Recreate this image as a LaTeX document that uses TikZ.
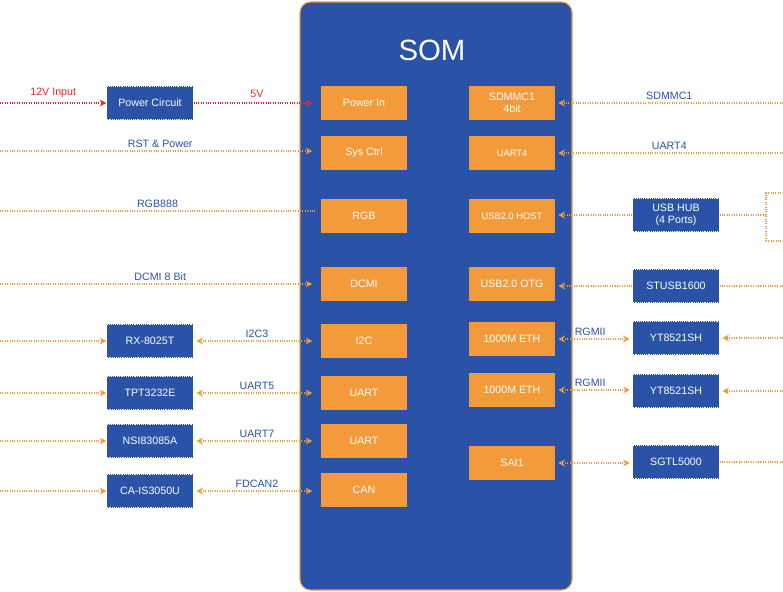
\documentclass[tikz,border=0pt]{standalone}
\usepackage{fontspec}
\setmainfont{Liberation Sans}
\usetikzlibrary{arrows.meta}
\definecolor{somblue}{HTML}{2A52A6}
\definecolor{somorange}{HTML}{F39A3A}
\definecolor{pwrred}{HTML}{E8252A}
\begin{document}
\begin{tikzpicture}[x=0.75pt,y=-0.75pt,font=\fontsize{8}{9}\selectfont] % SOM block diagram
\tikzstyle{port} = [fill=somorange, text=white, minimum width=65pt, minimum height=25pt, inner sep=1pt, align=center] % interface on the SOM
\tikzstyle{chip} = [fill=somblue, draw=white, densely dotted, text=white, minimum width=65pt, minimum height=25pt, inner sep=1pt, align=center] % external chip
\tikzstyle{bus} = [draw=somorange, densely dotted, thick] % signal line
\tikzstyle{pwr} = [draw=pwrred, densely dotted, thick] % power line
\tikzstyle{tip} = [-{Stealth[length=5pt,width=5pt]}]
\tikzstyle{tips} = [{Stealth[length=5pt,width=5pt]}-{Stealth[length=5pt,width=5pt]}]
\tikzstyle{sig} = [text=somblue, above, inner sep=2pt] % bus name
\useasboundingbox (0,0) rectangle (783,592);
% module
\node[fill=somblue, draw=somorange, thick, rounded corners=8pt, minimum width=204pt, minimum height=441pt] (som) at (436,296) {};
\node[text=white, font=\fontsize{22}{24}\selectfont] (title) at (432,50) {SOM};
% left column
\node[port] (pin) at (364,103) {Power In};
\node[port] (sys) at (364,153) {Sys Ctrl};
\node[port] (rgb) at (364,216) {RGB};
\node[port] (dcmi) at (364,284) {DCMI};
\node[port] (i2c) at (364,341) {I2C};
\node[port] (uarta) at (364,393) {UART};
\node[port] (uartb) at (364,441) {UART};
\node[port] (can) at (364,490) {CAN};
% right column
\node[port] (sd) at (512,103) {SDMMC1\\4bit};
\node[port, font=\fontsize{7}{8}\selectfont] (uart4) at (512,153) {UART4};
\node[port, font=\fontsize{7}{8}\selectfont] (host) at (512,216) {USB2.0 HOST};
\node[port] (otg) at (512,284) {USB2.0 OTG};
\node[port] (etha) at (512,339) {1000M ETH};
\node[port] (ethb) at (512,390) {1000M ETH};
\node[port] (sai) at (512,463) {SAI1};
% external chips
\node[chip] (pc) at (150,103) {Power Circuit};
\node[chip] (rtc) at (150,341) {RX-8025T};
\node[chip] (rs) at (150,393) {TPT3232E};
\node[chip] (iso) at (150,441) {NSI83085A};
\node[chip] (cant) at (150,491) {CA-IS3050U};
\node[chip] (hub) at (676,215) {USB HUB\\(4 Ports)};
\node[chip] (pd) at (676,286) {STUSB1600};
\node[chip] (phya) at (676,338) {YT8521SH};
\node[chip] (phyb) at (676,391) {YT8521SH};
\node[chip] (codec) at (676,462) {SGTL5000};
\node[draw=somorange, densely dotted, thick, minimum width=30pt, minimum height=36pt] (usbp) at (786,217) {};
% free ends
\coordinate (l12) at (0,103);
\coordinate (lrst) at (0,151);
\coordinate (lrgb) at (0,211);
\coordinate (ergb) at (315,211);
\coordinate (ldcmi) at (0,284);
\coordinate (lrtc) at (0,341);
\coordinate (lrs) at (0,393);
\coordinate (liso) at (0,441);
\coordinate (lcan) at (0,491);
\coordinate (rsd) at (783,103);
\coordinate (ru4) at (783,153);
\coordinate (rpd) at (783,286);
\coordinate (rpa) at (783,338);
\coordinate (rpb) at (783,391);
\coordinate (rco) at (783,462);
% power
\draw[pwr, tip, pwrred] (l12) -- (pc.west) node[midway, above, text=pwrred] {12V Input};
\draw[pwr, tip, pwrred, shorten >=6pt] (pc.east) -- (pin.west) node[midway, above, text=pwrred] {5V};
% left buses
\draw[bus, tip, somorange, shorten >=6pt] (lrst) -- (sys.west |- lrst) node[sig, midway] {RST \& Power};
\draw[bus] (lrgb) -- (ergb) node[sig, midway] {RGB888};
\draw[bus, tip, somorange, shorten >=6pt] (ldcmi) -- (dcmi.west) node[sig, midway] {DCMI 8 Bit};
\foreach \e/\c/\p/\n in {lrtc/rtc/i2c/I2C3, lrs/rs/uarta/UART5, liso/iso/uartb/UART7, lcan/cant/can/FDCAN2}{
  \draw[bus, tip, somorange] (\e) -- (\c.west);
  \draw[bus, tips, somorange, shorten >=6pt, shorten <=2pt] (\c.east) -- (\p.west |- \c.east) node[sig, midway] {\n};
}
% right buses
\draw[bus, tip, somorange, shorten >=2pt] (rsd) -- (sd.east) node[sig, midway] {SDMMC1};
\draw[bus, tip, somorange, shorten >=2pt] (ru4) -- (uart4.east) node[sig, midway] {UART4};
\draw[bus, tip, somorange, shorten >=2pt] (hub.west) -- (host.east |- hub.west);
\draw[bus] (hub.east) -- (usbp.west |- hub.east);
\draw[bus, tip, somorange, shorten >=2pt] (pd.west) -- (otg.east |- pd.west);
\draw[bus] (pd.east) -- (rpd);
\draw[bus, tips, somorange, shorten <=2pt, shorten >=2pt] (etha.east) -- (phya.west |- etha.east) node[sig, pos=0.45] {RGMII};
\draw[bus, tips, somorange, shorten <=2pt, shorten >=2pt] (ethb.east) -- (phyb.west |- ethb.east) node[sig, pos=0.45] {RGMII};
\draw[bus, tip, somorange, shorten >=2pt] (rpa) -- (phya.east);
\draw[bus, tip, somorange, shorten >=2pt] (rpb) -- (phyb.east);
\draw[bus, tips, somorange, shorten <=2pt, shorten >=2pt] (sai.east) -- (codec.west |- sai.east);
\draw[bus] (codec.east) -- (rco);
\end{tikzpicture}
\end{document}
